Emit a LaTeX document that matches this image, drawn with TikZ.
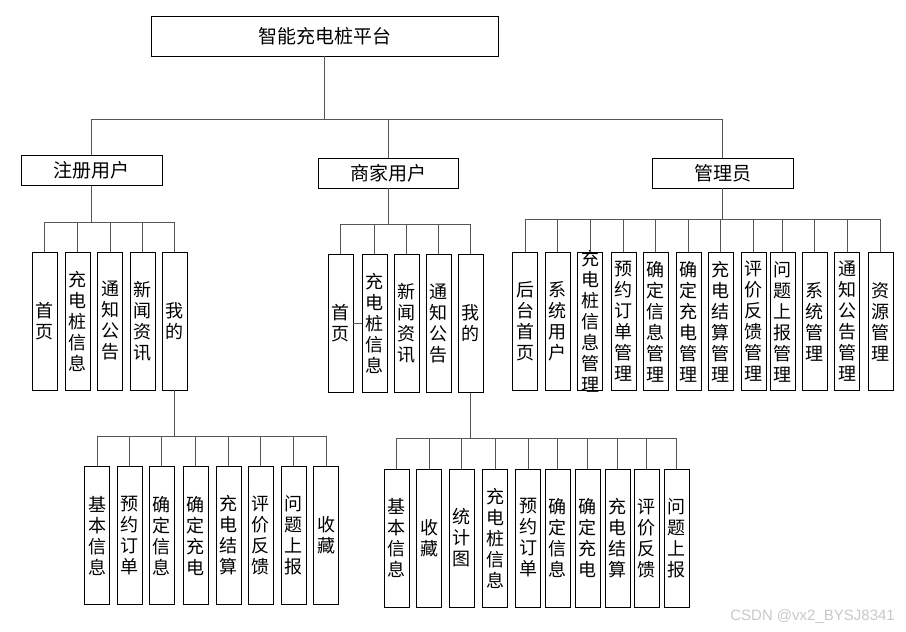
\documentclass[tikz,border=0pt]{standalone}
\usepackage{fontspec}
\setmainfont{Noto Sans CJK SC}
\newfontfamily\latinfont{Liberation Sans}
\usetikzlibrary{positioning,calc}
\definecolor{mygray}{RGB}{85,85,85}
\definecolor{marklight}{RGB}{200,200,200}

\begin{document}
\begin{tikzpicture}[x=1pt, y=-1pt,
  every node/.style={font=\fontsize{18}{21}\selectfont, inner sep=0pt},
  head/.style={draw, line width=0.9pt, minimum height=30pt, font=\fontsize{19}{21}\selectfont},
  leaf/.style={draw, line width=0.9pt, minimum width=25pt, minimum height=138pt},
  vlab/.style={align=center},
  link/.style={mygray, line width=1pt}]
  \useasboundingbox (0,0) rectangle (906,632);

  % --- root and roles ---
  \node[head, minimum width=347pt, minimum height=40pt] (root) at (324.5,36) {智能充电桩平台};
  \node[head, minimum width=141pt] (reg)  at (91.5,170.5) {注册用户};
  \node[head, minimum width=140pt] (shop) at (388,173) {商家用户};
  \node[head, minimum width=141pt] (adm)  at (722.5,173) {管理员};
  \coordinate (bus0) at (0,119);
  \draw[link] (root.south) -- (root.south |- bus0);
  \draw[link] (reg.north |- bus0) -- (adm.north |- bus0);
  \foreach \r in {reg,shop,adm}{
    \draw[link] (\r.north) -- (\r.north |- bus0);
  }

  % --- registered user ---
  \coordinate (busA) at (0,222);
  \foreach \n/\x/\t in {a1/44.5/{首\\页}, a2/77.5/{充\\电\\桩\\信\\息},
                        a3/110/{通\\知\\公\\告}, a4/142.5/{新\\闻\\资\\讯},
                        a5/174.5/{我\\的}}{
    \node[leaf] (\n) at (\x,321) {};
    \node[vlab] at (\n) {\t};
    \draw[link] (\n.north) -- (\n.north |- busA);
  }
  \draw[link] (reg.south) -- (reg.south |- busA);
  \draw[link] (a1.north |- busA) -- (a5.north |- busA);

  % --- merchant ---
  \coordinate (busB) at (0,224);
  \foreach \n/\x/\t in {b1/340.5/{首\\页}, b2/374.5/{充\\电\\桩\\信\\息},
                        b3/406.5/{新\\闻\\资\\讯}, b4/438.5/{通\\知\\公\\告},
                        b5/470.5/{我\\的}}{
    \node[leaf] (\n) at (\x,323.5) {};
    \node[vlab] at (\n) {\t};
    \draw[link] (\n.north) -- (\n.north |- busB);
  }
  \draw[link] (shop.south) -- (shop.south |- busB);
  \draw[link] (b1.north |- busB) -- (b5.north |- busB);
  \draw[link] (b1.east) -- (b2.west);

  % --- administrator ---
  \coordinate (busC) at (0,219);
  \foreach \n/\x/\t in {c1/525/{后\\台\\首\\页}, c2/557.5/{系\\统\\用\\户},
                        c3/590/{充\\电\\桩\\信\\息\\管\\理}, c4/623.5/{预\\约\\订\\单\\管\\理},
                        c5/655.5/{确\\定\\信\\息\\管\\理}, c6/688.5/{确\\定\\充\\电\\管\\理},
                        c7/720.5/{充\\电\\结\\算\\管\\理}, c8/753.5/{评\\价\\反\\馈\\管\\理},
                        c9/782.5/{问\\题\\上\\报\\管\\理}, c10/814.5/{系\\统\\管\\理},
                        c11/847/{通\\知\\公\\告\\管\\理}, c12/880.5/{资\\源\\管\\理}}{
    \node[leaf] (\n) at (\x,321.5) {};
    \node[vlab] at (\n) {\t};
    \draw[link] (\n.north) -- (\n.north |- busC);
  }
  \draw[link] (adm.south) -- (adm.south |- busC);
  \draw[link] (c1.north |- busC) -- (c12.north |- busC);

  % --- registered user: mine ---
  \coordinate (busD) at (0,436);
  \foreach \n/\x/\t in {d1/97/{基\\本\\信\\息}, d2/129.5/{预\\约\\订\\单},
                        d3/161.5/{确\\定\\信\\息}, d4/195.5/{确\\定\\充\\电},
                        d5/228.5/{充\\电\\结\\算}, d6/260.5/{评\\价\\反\\馈},
                        d7/293.5/{问\\题\\上\\报}, d8/326/{收\\藏}}{
    \node[leaf] (\n) at (\x,535.5) {};
    \node[vlab] at (\n) {\t};
    \draw[link] (\n.north) -- (\n.north |- busD);
  }
  \draw[link] (a5.south) -- (a5.south |- busD);
  \draw[link] (d1.north |- busD) -- (d8.north |- busD);

  % --- merchant: mine ---
  \coordinate (busE) at (0,438);
  \foreach \n/\x/\t in {e1/396.5/{基\\本\\信\\息}, e2/429/{收\\藏},
                        e3/461.5/{统\\计\\图}, e4/495/{充\\电\\桩\\信\\息},
                        e5/528/{预\\约\\订\\单}, e6/557.5/{确\\定\\信\\息},
                        e7/587.5/{确\\定\\充\\电}, e8/617.5/{充\\电\\结\\算},
                        e9/646.5/{评\\价\\反\\馈}, e10/676.5/{问\\题\\上\\报}}{
    \node[leaf] (\n) at (\x,538) {};
    \node[vlab] at (\n) {\t};
    \draw[link] (\n.north) -- (\n.north |- busE);
  }
  \draw[link] (b5.south) -- (b5.south |- busE);
  \draw[link] (e1.north |- busE) -- (e10.north |- busE);

  % watermark
  \node[font=\latinfont\fontsize{15}{15}\selectfont, text=marklight, anchor=east] (mark) at (895,617) {CSDN @vx2\_BYSJ8341};
\end{tikzpicture}
\end{document}
